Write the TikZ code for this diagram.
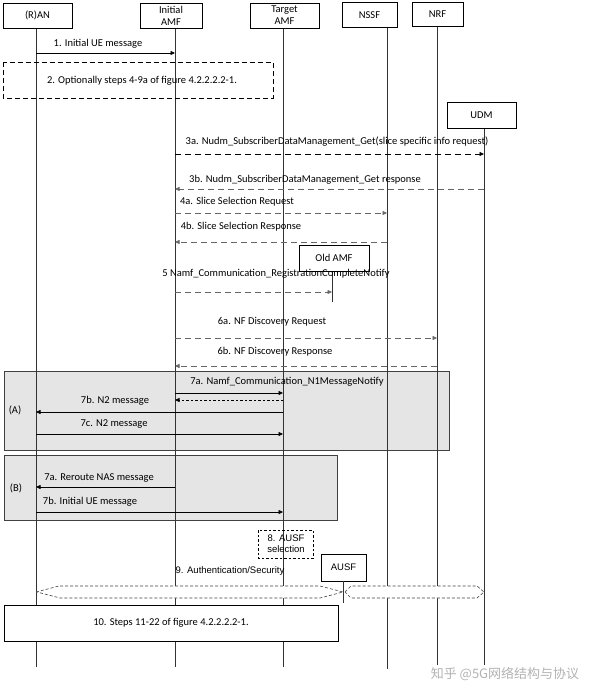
\documentclass[tikz,border=0pt]{standalone}
\usepackage{fontspec}
\setmainfont{Carlito}
\newfontfamily\arialfont{Liberation Sans}
\newfontfamily\cjkfont{Noto Sans CJK SC}
\usetikzlibrary{positioning,arrows.meta}

\begin{document}
\begin{tikzpicture}[x=1pt,y=-1pt,font=\fontsize{10.5}{12}\selectfont,
  hdr/.style={draw,fill=white,inner sep=0pt,align=center,line width=0.6pt},
  life/.style={draw=black!80,line width=0.6pt},
  msg/.style={line width=0.6pt,-{Triangle[length=4.5pt,width=4pt]}},
  rsp/.style={msg,dash pattern=on 6pt off 4pt},
  grsp/.style={rsp,draw=black!60},
  srsp/.style={msg,dash pattern=on 2.5pt off 2pt},
  grp/.style={draw=black!75,fill=black!10,line width=0.6pt},
  afont/.style={font=\arialfont\fontsize{9.5}{11}\selectfont},
  dbl/.style={draw=black!75,dash pattern=on 3pt off 2pt,fill=white,line width=0.6pt}]
  \useasboundingbox (0,0) rectangle (595,700);

  % alternative branches
  \draw[grp] (4,371) rectangle (449,450);
  \draw[grp] (4,455) rectangle (337,520);
  \node (lblA) at (15,410) {(A)};
  \node (lblB) at (16,488) {(B)};

  % lifelines
  \coordinate (ranT) at (36,28);    \coordinate (ranB) at (36,667);
  \coordinate (iamfT) at (175,28);  \coordinate (iamfB) at (175,667);
  \coordinate (tamfT) at (283,28);  \coordinate (tamfB) at (283,667);
  \coordinate (nssfT) at (387,28);  \coordinate (nssfB) at (387,669);
  \coordinate (nrfT) at (437,27);   \coordinate (nrfB) at (437,665);
  \coordinate (udmT) at (484,128);  \coordinate (udmB) at (484,665);
  \coordinate (oamfT) at (332,271); \coordinate (oamfB) at (332,302);
  \coordinate (ausfT) at (343,581); \coordinate (ausfB) at (343,603);
  \draw[life] (ranT)--(ranB) (iamfT)--(iamfB) (tamfT)--(tamfB)
              (nssfT)--(nssfB) (nrfT)--(nrfB) (udmT)--(udmB)
              (oamfT)--(oamfB);

  % participants
  \node[hdr,minimum width=69pt,minimum height=25pt] (ran) at (37.5,15.5) {(R)AN};
  \node[hdr,minimum width=62pt,minimum height=25pt] (iamf) at (171,15.5) {Initial\\AMF};
  \node[hdr,minimum width=69pt,minimum height=25pt] (tamf) at (284.5,15.5) {Target\\AMF};
  \node[hdr,minimum width=55pt,minimum height=25pt] (nssf) at (369.5,15) {NSSF};
  \node[hdr,minimum width=51pt,minimum height=24pt] (nrf) at (437.5,14.5) {NRF};
  \node[hdr,minimum width=69pt,minimum height=26pt] (udm) at (481.5,115) {UDM};
  \node[hdr,minimum width=70pt,minimum height=26pt] (oamf) at (334,258) {Old AMF};
  \node[hdr,afont,minimum width=45pt,minimum height=27pt] (ausf) at (343.5,567.5) {AUSF};

  % steps 1 and 2
  \draw[msg] (ranT |- 0,53) -- (iamfT |- 0,53);
  \node (m1) at (98,44) {1. Initial UE message};
  \draw[line width=0.6pt,dash pattern=on 5pt off 3pt] (3,62) rectangle (273,98);
  \node (s2) at (142,81) {2. Optionally steps 4-9a of figure 4.2.2.2.2-1.};

  % slice info from UDM, NSSF
  \draw[rsp] (iamfT |- 0,154) -- (udmT |- 0,154);
  \node (m3a) at (337,142) {3a. Nudm\_SubscriberDataManagement\_Get(slice specific info request)};
  \draw[grsp] (udmT |- 0,189) -- (iamfT |- 0,189);
  \node (m3b) at (305,180) {3b. Nudm\_SubscriberDataManagement\_Get response};
  \draw[grsp] (iamfT |- 0,213) -- (nssfT |- 0,213);
  \node (m4a) at (237,202) {4a. Slice Selection Request};
  \draw[grsp] (nssfT |- 0,242) -- (iamfT |- 0,242);
  \node (m4b) at (241,227) {4b. Slice Selection Response};

  % step 5 and NRF
  \draw[grsp] (iamfT |- 0,292) -- (oamfT |- 0,292);
  \node (m5) at (276,274) {5 Namf\_Communication\_RegistrationCompleteNotify};
  \draw[grsp] (iamfT |- 0,338) -- (nrfT |- 0,338);
  \node (m6a) at (272,322) {6a. NF Discovery Request};
  \draw[grsp] (nrfT |- 0,366) -- (iamfT |- 0,366);
  \node (m6b) at (275,352) {6b. NF Discovery Response};

  % branch (A)
  \draw[msg] (iamfT |- 0,393) -- (tamfT |- 0,393);
  \node (m7a) at (287,382) {7a. Namf\_Communication\_N1MessageNotify};
  \draw[srsp] (tamfT |- 0,400) -- (iamfT |- 0,400);
  \draw[msg] (tamfT |- 0,412) -- (ranT |- 0,412);
  \node (m7b) at (115,401) {7b. N2 message};
  \draw[msg] (ranT |- 0,434) -- (tamfT |- 0,434);
  \node (m7c) at (114,424) {7c. N2 message};

  % branch (B)
  \draw[msg] (iamfT |- 0,487) -- (ranT |- 0,487);
  \node (r7a) at (99,478) {7a. Reroute NAS message};
  \draw[msg] (ranT |- 0,512) -- (tamfT |- 0,512);
  \node (r7b) at (90,502) {7b. Initial UE message};

  % AUSF selection and authentication
  \draw[line width=0.6pt,dash pattern=on 2.5pt off 2pt] (258,530) rectangle (313,558);
  \node[afont,align=center] (s8) at (286,544) {8. AUSF\\selection};
  \node[afont] (m9) at (230,571) {9. Authentication/Security};
  \draw[dbl] (ranT |- 0,592) -- ++(23,-6) -- (320,586) -- (ausfT |- 0,592)
             -- (320,598) -- (60,598) -- ++(-23,-6) -- cycle;
  \draw[dbl] (345,592) -- ++(6,-6) -- (477,586) -- (udmT |- 0,592)
             -- (477,598) -- (351,598) -- cycle;
  \draw[life] (ausfT)--(ausfB);

  % step 10
  \draw[line width=0.6pt,fill=white] (4,605) rectangle (338,641);
  \node (s10) at (171,623) {10. Steps 11-22 of figure 4.2.2.2.2-1.};

  % watermark
  \node[text=black!30,font=\cjkfont\fontsize{13}{13}\selectfont] (wm) at (505,674) {知乎 @5G网络结构与协议};
\end{tikzpicture}
\end{document}
